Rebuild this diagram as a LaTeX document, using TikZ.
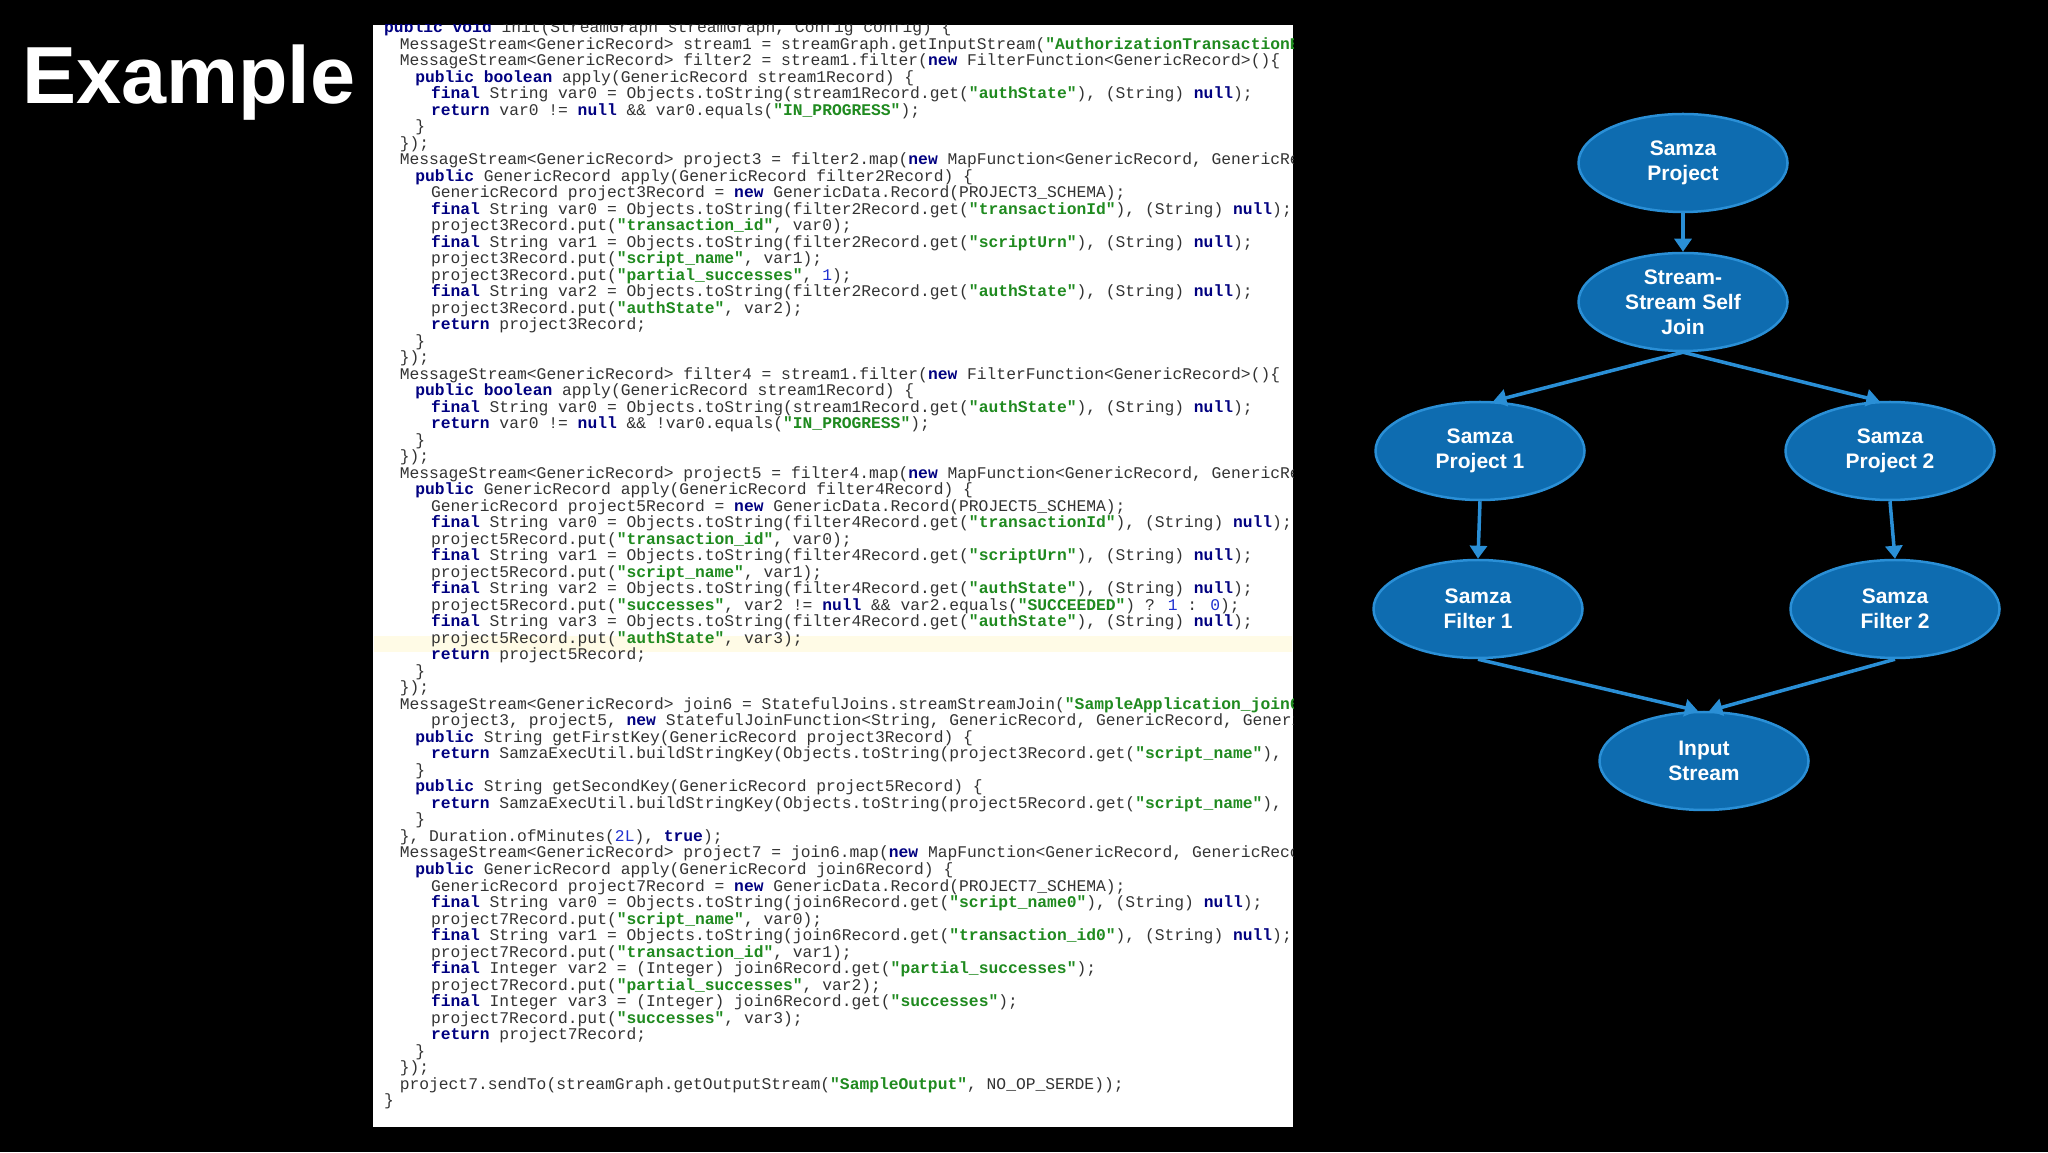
\documentclass[tikz,border=0pt]{standalone}
\usepackage{fontspec}
\setmainfont{Liberation Sans}
\newfontfamily\codefont{Liberation Mono}
\usetikzlibrary{shapes.geometric,arrows.meta,positioning}

\definecolor{samzablue}{HTML}{0E6CB0}
\definecolor{samzarim}{HTML}{2A8FD6}
\definecolor{kwcol}{HTML}{000080}
\definecolor{strcol}{HTML}{1F8A1F}
\definecolor{numcol}{HTML}{2030D0}
\definecolor{codegray}{HTML}{333333}
\definecolor{hiline}{HTML}{FFFBE6}

\newcommand{\kw}[1]{{\bfseries\color{kwcol}#1}}
\newcommand{\st}[1]{{\bfseries\color{strcol}"#1"}}
\newcommand{\nm}[1]{{\color{numcol}#1}}
\newcommand{\cl}[3]{\node[code] (l#1) at ({384+15.6*#2},{1119-16.5*(#1-1)}) {#3};}

\tikzset{
  code/.style = {anchor=base west, inner sep=0pt, font=\codefont\fontsize{16.3}{16.5}\selectfont, text=codegray},
  op/.style = {ellipse, fill=samzablue, draw=samzarim, line width=2.5pt, minimum width=209pt, minimum height=98pt,
    inner sep=0pt, align=center, text=white, font=\bfseries\fontsize{21}{25}\selectfont},
  flow/.style = {draw=samzarim, line width=3.5pt, -{Triangle[width=17pt,length=13pt]}}
}

\begin{document}
\begin{tikzpicture}[x=1pt, y=1pt]
  \fill[black] (0,0) rectangle (2048,1152);
  \useasboundingbox (0,0) rectangle (2048,1152);

  % title
  \node[anchor=base west, inner sep=0pt, text=white, font=\bfseries\fontsize{81}{81}\selectfont] (title) at (22,1048) {Example};

  % code panel
  \fill[white] (373,25) rectangle (1293,1127);
  \fill[hiline] (374,500) rectangle (1292,516);
  \begin{scope}
    \clip (373,25) rectangle (1293,1127);
    \cl{1}{0}{\kw{public} \kw{void} init(StreamGraph streamGraph, Config config) \{}
    \cl{2}{1}{MessageStream<GenericRecord> stream1 = streamGraph.getInputStream(\st{AuthorizationTransactionEvent}, NO\_OP\_SERDE);}
    \cl{3}{1}{MessageStream<GenericRecord> filter2 = stream1.filter(\kw{new} FilterFunction<GenericRecord>()\{}
    \cl{4}{2}{\kw{public} \kw{boolean} apply(GenericRecord stream1Record) \{}
    \cl{5}{3}{\kw{final} String var0 = Objects.toString(stream1Record.get(\st{authState}), (String) \kw{null});}
    \cl{6}{3}{\kw{return} var0 != \kw{null} \&\& var0.equals(\st{IN\_PROGRESS});}
    \cl{7}{2}{\}}
    \cl{8}{1}{\});}
    \cl{9}{1}{MessageStream<GenericRecord> project3 = filter2.map(\kw{new} MapFunction<GenericRecord, GenericRecord>()\{}
    \cl{10}{2}{\kw{public} GenericRecord apply(GenericRecord filter2Record) \{}
    \cl{11}{3}{GenericRecord project3Record = \kw{new} GenericData.Record(PROJECT3\_SCHEMA);}
    \cl{12}{3}{\kw{final} String var0 = Objects.toString(filter2Record.get(\st{transactionId}), (String) \kw{null});}
    \cl{13}{3}{project3Record.put(\st{transaction\_id}, var0);}
    \cl{14}{3}{\kw{final} String var1 = Objects.toString(filter2Record.get(\st{scriptUrn}), (String) \kw{null});}
    \cl{15}{3}{project3Record.put(\st{script\_name}, var1);}
    \cl{16}{3}{project3Record.put(\st{partial\_successes}, \nm{1});}
    \cl{17}{3}{\kw{final} String var2 = Objects.toString(filter2Record.get(\st{authState}), (String) \kw{null});}
    \cl{18}{3}{project3Record.put(\st{authState}, var2);}
    \cl{19}{3}{\kw{return} project3Record;}
    \cl{20}{2}{\}}
    \cl{21}{1}{\});}
    \cl{22}{1}{MessageStream<GenericRecord> filter4 = stream1.filter(\kw{new} FilterFunction<GenericRecord>()\{}
    \cl{23}{2}{\kw{public} \kw{boolean} apply(GenericRecord stream1Record) \{}
    \cl{24}{3}{\kw{final} String var0 = Objects.toString(stream1Record.get(\st{authState}), (String) \kw{null});}
    \cl{25}{3}{\kw{return} var0 != \kw{null} \&\& !var0.equals(\st{IN\_PROGRESS});}
    \cl{26}{2}{\}}
    \cl{27}{1}{\});}
    \cl{28}{1}{MessageStream<GenericRecord> project5 = filter4.map(\kw{new} MapFunction<GenericRecord, GenericRecord>()\{}
    \cl{29}{2}{\kw{public} GenericRecord apply(GenericRecord filter4Record) \{}
    \cl{30}{3}{GenericRecord project5Record = \kw{new} GenericData.Record(PROJECT5\_SCHEMA);}
    \cl{31}{3}{\kw{final} String var0 = Objects.toString(filter4Record.get(\st{transactionId}), (String) \kw{null});}
    \cl{32}{3}{project5Record.put(\st{transaction\_id}, var0);}
    \cl{33}{3}{\kw{final} String var1 = Objects.toString(filter4Record.get(\st{scriptUrn}), (String) \kw{null});}
    \cl{34}{3}{project5Record.put(\st{script\_name}, var1);}
    \cl{35}{3}{\kw{final} String var2 = Objects.toString(filter4Record.get(\st{authState}), (String) \kw{null});}
    \cl{36}{3}{project5Record.put(\st{successes}, var2 != \kw{null} \&\& var2.equals(\st{SUCCEEDED}) ? \nm{1} : \nm{0});}
    \cl{37}{3}{\kw{final} String var3 = Objects.toString(filter4Record.get(\st{authState}), (String) \kw{null});}
    \cl{38}{3}{project5Record.put(\st{authState}, var3);}
    \cl{39}{3}{\kw{return} project5Record;}
    \cl{40}{2}{\}}
    \cl{41}{1}{\});}
    \cl{42}{1}{MessageStream<GenericRecord> join6 = StatefulJoins.streamStreamJoin(\st{SampleApplication\_join6}, JoinType.INNER\_JOIN,}
    \cl{43}{3}{project3, project5, \kw{new} StatefulJoinFunction<String, GenericRecord, GenericRecord, GenericRecord>()\{}
    \cl{44}{2}{\kw{public} String getFirstKey(GenericRecord project3Record) \{}
    \cl{45}{3}{\kw{return} SamzaExecUtil.buildStringKey(Objects.toString(project3Record.get(\st{script\_name}), (String) \kw{null}), Objects.toString(}
    \cl{46}{2}{\}}
    \cl{47}{2}{\kw{public} String getSecondKey(GenericRecord project5Record) \{}
    \cl{48}{3}{\kw{return} SamzaExecUtil.buildStringKey(Objects.toString(project5Record.get(\st{script\_name}), (String) \kw{null}), Objects.toString(}
    \cl{49}{2}{\}}
    \cl{50}{1}{\}, Duration.ofMinutes(\nm{2L}), \kw{true});}
    \cl{51}{1}{MessageStream<GenericRecord> project7 = join6.map(\kw{new} MapFunction<GenericRecord, GenericRecord>()\{}
    \cl{52}{2}{\kw{public} GenericRecord apply(GenericRecord join6Record) \{}
    \cl{53}{3}{GenericRecord project7Record = \kw{new} GenericData.Record(PROJECT7\_SCHEMA);}
    \cl{54}{3}{\kw{final} String var0 = Objects.toString(join6Record.get(\st{script\_name0}), (String) \kw{null});}
    \cl{55}{3}{project7Record.put(\st{script\_name}, var0);}
    \cl{56}{3}{\kw{final} String var1 = Objects.toString(join6Record.get(\st{transaction\_id0}), (String) \kw{null});}
    \cl{57}{3}{project7Record.put(\st{transaction\_id}, var1);}
    \cl{58}{3}{\kw{final} Integer var2 = (Integer) join6Record.get(\st{partial\_successes});}
    \cl{59}{3}{project7Record.put(\st{partial\_successes}, var2);}
    \cl{60}{3}{\kw{final} Integer var3 = (Integer) join6Record.get(\st{successes});}
    \cl{61}{3}{project7Record.put(\st{successes}, var3);}
    \cl{62}{3}{\kw{return} project7Record;}
    \cl{63}{2}{\}}
    \cl{64}{1}{\});}
    \cl{65}{1}{project7.sendTo(streamGraph.getOutputStream(\st{SampleOutput}, NO\_OP\_SERDE));}
    \cl{66}{0}{\}}
  \end{scope}

  % operator graph
  \node[op] (proj) at (1683,989) {Samza\\Project};
  \node[op] (join) at (1683,850) {Stream-\\Stream Self\\Join};
  \node[op] (proj1) at (1480,701) {Samza\\Project 1};
  \node[op] (proj2) at (1890,701) {Samza\\Project 2};
  \node[op] (filt1) at (1478,543) {Samza\\Filter 1};
  \node[op] (filt2) at (1895,543) {Samza\\Filter 2};
  \node[op] (input) at (1704,391) {Input\\Stream};

  \draw[flow] (proj.south) -- (join.north);
  \draw[flow] (join.south) -- (proj1.75);
  \draw[flow] (join.south) -- (proj2.102);
  \draw[flow] (proj1.south) -- (filt1.north);
  \draw[flow] (proj2.south) -- (filt2.north);
  \draw[flow] (filt1.south) -- (input.97);
  \draw[flow] (filt2.south) -- (input.84);
\end{tikzpicture}
\end{document}
